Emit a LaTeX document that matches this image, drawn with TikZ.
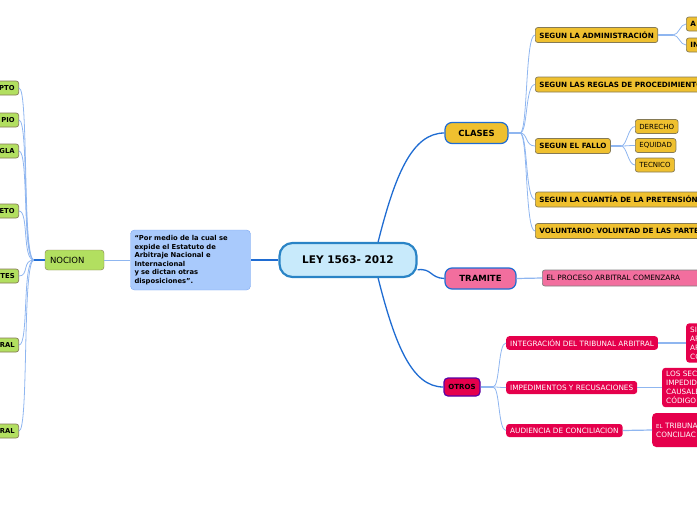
\documentclass[tikz,border=0pt]{standalone}
\usepackage{fontspec}
\setmainfont{DejaVu Sans}
\definecolor{linkblue}{HTML}{1F6CD2}
\definecolor{twigblue}{HTML}{8FB6F0}
\definecolor{leyfill}{HTML}{C8EAFB}
\definecolor{leyedge}{HTML}{2A84C6}
\definecolor{quotefill}{HTML}{A9CAFC}
\definecolor{quoteedge}{HTML}{7FA9F0}
\definecolor{leafgreen}{HTML}{B2DF60}
\definecolor{leafgold}{HTML}{EFC02F}
\definecolor{leafpink}{HTML}{F26E9E}
\definecolor{leafred}{HTML}{E5004C}
\definecolor{leafedge}{HTML}{857A55}
\begin{document}
\begin{tikzpicture}[x=1pt,y=-1pt,
    mainline/.style={draw=linkblue, line width=1.3pt},
    twig/.style={draw=twigblue, line width=0.8pt},
    topic/.style={draw=linkblue, line width=1.2pt, rounded corners=7pt,
      minimum height=21pt, font=\bfseries\fontsize{8.5}{10}\selectfont},
    leaf/.style={draw=leafedge, line width=0.7pt, rounded corners=2.5pt,
      minimum height=15pt, inner xsep=4pt, anchor=west,
      font=\bfseries\fontsize{7.2}{8}\selectfont},
    thinleaf/.style={leaf, font=\fontsize{7}{8}\selectfont, minimum height=14pt},
    redleaf/.style={fill=leafred, draw=none, rounded corners=3pt, anchor=west,
      text=white, inner xsep=4pt, font=\fontsize{7.3}{9}\selectfont},
    greenleaf/.style={leaf, fill=leafgreen, anchor=east, text width=30pt,
      align=right, minimum height=14pt, font=\bfseries\fontsize{6.8}{8}\selectfont}]
  \useasboundingbox (0,0) rectangle (697,520);
  \clip (0,0) rectangle (697,520);

  % centre and left side
  \node[draw=leyedge, fill=leyfill, line width=2.2pt, rounded corners=13pt,
    minimum width=137pt, minimum height=34pt,
    font=\bfseries\fontsize{10.5}{12}\selectfont] (ley) at (348,260) {LEY 1563- 2012};
  \node[draw=quoteedge, fill=quotefill, rounded corners=4pt, text width=112pt,
    align=left, inner sep=4pt, minimum height=60pt,
    font=\bfseries\fontsize{6.8}{8.5}\selectfont] (dispo) at (190.5,260)
    {“Por medio de la cual se\\expide el Estatuto de\\Arbitraje Nacional e\\Internacional\\y se dictan otras\\disposiciones”.};
  \node[draw=leafedge, fill=leafgreen, rounded corners=3pt, minimum width=59pt,
    minimum height=20pt, text width=49pt, align=left,
    font=\fontsize{8.5}{10}\selectfont] (nocion) at (74.5,260) {NOCION};
  \coordinate (nochub) at (34,260);
  \foreach \y/\t [count=\n] in {88/PTO, 120/PIO, 151/GLA, 211/ETO, 276/TES, 345/RAL, 431/RAL}{
    \node[greenleaf] (g\n) at (19,\y) {\t};
    \draw[twig] (nochub) .. controls +(-12,0) and +(10,0) .. (g\n.east);
  }
  \draw[mainline] (ley.west) -- (dispo.east);
  \draw[twig, line width=1pt] (dispo.west) -- (nocion.east);
  \draw[mainline] (nocion.west) -- (nochub);

  % main topics
  \node[topic, fill=leafgold, minimum width=63pt] (cla) at (476.5,133) {CLASES};
  \node[topic, fill=leafpink, minimum width=71pt] (tram) at (480.5,278.5) {TRAMITE};
  \node[topic, fill=leafred, draw=violet!70!blue, rounded corners=4pt, minimum width=36pt,
    minimum height=18pt, font=\bfseries\fontsize{7}{8}\selectfont] (otros) at (462,387) {OTROS};
  \draw[mainline] (ley.31) .. controls (395,175) and (412,133) .. (cla.west);
  \draw[mainline] (ley.-8) .. controls (432,268) and (430,278) .. (tram.west);
  \draw[mainline] (ley.-31) .. controls (395,345) and (412,387) .. (otros.west);

  % CLASES
  \node[leaf, fill=leafgold] (adm) at (535,35) {SEGUN LA ADMINISTRACIÓN\hspace{3pt}};
  \node[leaf, fill=leafgold, text width=200pt, align=left] (reglas) at (535,84.5) {SEGUN LAS REGLAS DE PROCEDIMIENTO};
  \node[leaf, fill=leafgold] (fallo) at (535,146) {SEGUN EL FALLO};
  \node[leaf, fill=leafgold, text width=200pt, align=left] (cuantia) at (535,199.5) {SEGUN LA CUANTÍA DE LA PRETENSIÓN};
  \node[leaf, fill=leafgold, text width=200pt, align=left] (volunt) at (535,231) {VOLUNTARIO: VOLUNTAD DE LAS PARTES};
  \coordinate (clahub) at (520,133);
  \draw[twig, line width=1.2pt] (cla.east) -- (clahub);
  \foreach \c in {adm, reglas, fallo, cuantia, volunt}
    \draw[twig] (clahub) .. controls +(8,0) and +(-10,0) .. (\c.west);

  \node[leaf, fill=leafgold, minimum height=14pt, text width=20pt, align=left] (adhoc) at (686,24) {A};
  \node[leaf, fill=leafgold, minimum height=14pt, text width=20pt, align=left] (insti) at (686,45) {IN};
  \coordinate (admhub) at (673,35);
  \draw[twig, line width=1.2pt] (adm.east) -- (admhub);
  \foreach \c in {adhoc, insti}
    \draw[twig] (admhub) .. controls +(6,0) and +(-6,0) .. (\c.west);

  \node[thinleaf, fill=leafgold] (derecho) at (635,126.5) {DERECHO};
  \node[thinleaf, fill=leafgold] (equidad) at (635,145.5) {EQUIDAD};
  \node[thinleaf, fill=leafgold] (tecnico) at (635,165) {TECNICO};
  \coordinate (fallohub) at (621,146);
  \draw[twig, line width=1.2pt] (fallo.east) -- (fallohub);
  \foreach \c in {derecho, equidad, tecnico}
    \draw[twig] (fallohub) .. controls +(6,0) and +(-7,0) .. (\c.west);

  % TRAMITE
  \node[thinleaf, fill=leafpink, draw=gray, minimum height=16pt, font=\fontsize{7.3}{8}\selectfont,
    text width=160pt, align=left] (proceso) at (542,278) {EL PROCESO ARBITRAL COMENZARA};
  \draw[twig, line width=1.2pt] (tram.east) -- (proceso.west);

  % OTROS
  \node[redleaf, minimum height=13pt] (integ) at (506,343) {INTEGRACIÓN DEL TRIBUNAL ARBITRAL};
  \node[redleaf, minimum height=13pt] (imped) at (506,387.5) {IMPEDIMENTOS Y RECUSACIONES};
  \node[redleaf, minimum height=13pt] (audi) at (506,430.5) {AUDIENCIA DE CONCILIACION\hspace{3pt}};
  \coordinate (otroshub) at (493,387);
  \draw[twig, line width=1.2pt] (otros.east) -- (otroshub);
  \foreach \c in {integ, imped, audi}
    \draw[twig] (otroshub) .. controls +(7,0) and +(-8,0) .. (\c.west);

  \node[redleaf, text width=60pt, align=left, minimum height=38pt] (integtxt) at (686,343) {SI\\AR\\AR\\CO};
  \node[redleaf, text width=60pt, align=left, minimum height=39pt] (impedtxt) at (662,387.5) {LOS SEC\\IMPEDID\\CAUSALE\\CÓDIGO};
  \node[redleaf, text width=60pt, align=left, minimum height=34pt, rounded corners=4pt] (auditxt) at (652,430)
    {{\fontsize{5.5}{9}\selectfont EL} TRIBUNA\\CONCILIAC};
  \draw[twig, line width=1.2pt] (integ.east) -- (integtxt.west);
  \draw[twig, line width=1.2pt] (imped.east) -- (impedtxt.west);
  \draw[twig, line width=1.2pt] (audi.east) -- (auditxt.west);
\end{tikzpicture}
\end{document}
